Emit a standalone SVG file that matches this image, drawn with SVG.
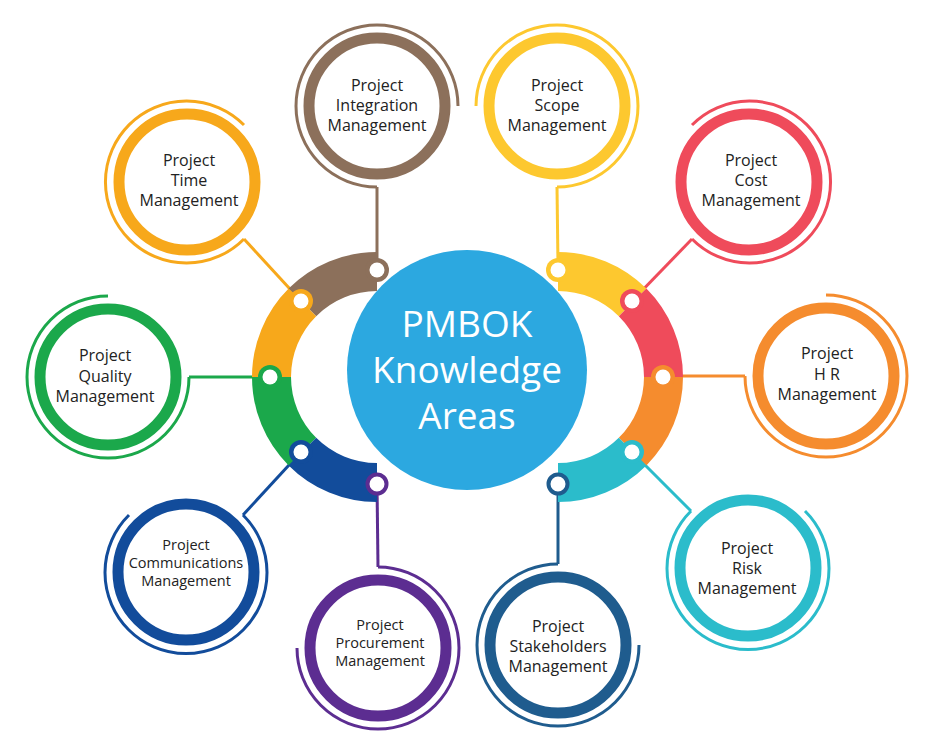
<svg xmlns="http://www.w3.org/2000/svg" width="945" height="753" viewBox="0 0 945 753">
<style>
.ring{fill:#fff;stroke-width:11}
.arc{fill:none;stroke-width:3}
.ln{fill:none;stroke-width:3}
.t{font-family:"Open Sans","Liberation Sans",sans-serif;font-size:16px;fill:#222;text-anchor:middle}
.s{font-size:14.5px}
.c{font-family:"Open Sans","Liberation Sans",sans-serif;font-size:37px;fill:#fff;text-anchor:middle}
</style>
<rect width="945" height="753" fill="#fff"/>
<g id="connectors">
<line class="ln" x1="377" y1="187" x2="377" y2="265" stroke="#8c705b"/>
<line class="ln" x1="244" y1="239" x2="301" y2="301" stroke="#f7a81b"/>
<line class="ln" x1="189" y1="377" x2="270" y2="377" stroke="#1ba84b"/>
<line class="ln" x1="243" y1="515" x2="301" y2="452" stroke="#124c9b"/>
<line class="ln" x1="378" y1="567" x2="377" y2="484" stroke="#5c2d91"/>
<line class="ln" x1="557" y1="187" x2="558" y2="265" stroke="#fdc82f"/>
<line class="ln" x1="692" y1="239" x2="632" y2="301" stroke="#ef4b5b"/>
<line class="ln" x1="745" y1="376" x2="663" y2="376" stroke="#f58c2e"/>
<line class="ln" x1="691" y1="511" x2="632" y2="452" stroke="#2bbccb"/>
<line class="ln" x1="558" y1="564" x2="558" y2="484" stroke="#1f5c8e"/>
</g>
<g id="hub">
<path d="M377 252 A125 125 0 0 0 288.6 288.6 L316.2 316.2 A86 86 0 0 1 377 291 Z" fill="#8c705b"/>
<path d="M288.6 288.6 A125 125 0 0 0 252 377 L291 377 A86 86 0 0 1 316.2 316.2 Z" fill="#f7a81b"/>
<path d="M252 377 A125 125 0 0 0 288.6 465.4 L316.2 437.8 A86 86 0 0 1 291 377 Z" fill="#1ba84b"/>
<path d="M288.6 465.4 A125 125 0 0 0 377 502 L377 463 A86 86 0 0 1 316.2 437.8 Z" fill="#124c9b"/>
<path d="M558 252 A125 125 0 0 1 646.4 288.6 L618.8 316.2 A86 86 0 0 0 558 291 Z" fill="#fdc82f"/>
<path d="M646.4 288.6 A125 125 0 0 1 683 377 L644 377 A86 86 0 0 0 618.8 316.2 Z" fill="#ef4b5b"/>
<path d="M683 377 A125 125 0 0 1 646.4 465.4 L618.8 437.8 A86 86 0 0 0 644 377 Z" fill="#f58c2e"/>
<path d="M646.4 465.4 A125 125 0 0 1 558 502 L558 463 A86 86 0 0 0 618.8 437.8 Z" fill="#2bbccb"/>
<circle cx="377" cy="270" r="12" fill="#8c705b"/><circle cx="377" cy="270" r="7.5" fill="#fff"/>
<circle cx="301" cy="301" r="12" fill="#f7a81b"/><circle cx="301" cy="301" r="7.5" fill="#fff"/>
<circle cx="270" cy="377" r="12" fill="#1ba84b"/><circle cx="270" cy="377" r="7.5" fill="#fff"/>
<circle cx="301" cy="452" r="12" fill="#124c9b"/><circle cx="301" cy="452" r="7.5" fill="#fff"/>
<circle cx="377" cy="484" r="9.5" fill="#fff" stroke="#5c2d91" stroke-width="4"/>
<circle cx="558" cy="270" r="12" fill="#fdc82f"/><circle cx="558" cy="270" r="7.5" fill="#fff"/>
<circle cx="632" cy="301" r="12" fill="#ef4b5b"/><circle cx="632" cy="301" r="7.5" fill="#fff"/>
<circle cx="663" cy="377" r="12" fill="#f58c2e"/><circle cx="663" cy="377" r="7.5" fill="#fff"/>
<circle cx="632" cy="452" r="12" fill="#2bbccb"/><circle cx="632" cy="452" r="7.5" fill="#fff"/>
<circle cx="558" cy="484" r="9.5" fill="#fff" stroke="#1f5c8e" stroke-width="4"/>
<circle cx="467" cy="370" r="120" fill="#2ca8e0"/>
<text class="c" x="467" y="337">PMBOK</text>
<text class="c" x="467" y="383">Knowledge</text>
<text class="c" x="467" y="429">Areas</text>
</g>
<g id="integration">
<path class="arc" d="M377 187 A81 81 0 1 1 458 106" stroke="#8c705b"/>
<circle class="ring" cx="377" cy="106" r="68" stroke="#8c705b"/>
<text class="t" x="377" y="91">Project</text><text class="t" x="377" y="111">Integration</text><text class="t" x="377" y="131">Management</text>
</g>
<g id="scope">
<path class="arc" d="M557 187 A81 81 0 1 0 476 106" stroke="#fdc82f"/>
<circle class="ring" cx="557" cy="106" r="68" stroke="#fdc82f"/>
<text class="t" x="557" y="91">Project</text><text class="t" x="557" y="111">Scope</text><text class="t" x="557" y="131">Management</text>
</g>
<g id="time">
<path class="arc" d="M244 239 A81 81 0 1 1 244 125" stroke="#f7a81b"/>
<circle class="ring" cx="187" cy="182" r="68" stroke="#f7a81b"/>
<text class="t" x="189" y="166">Project</text><text class="t" x="189" y="186">Time</text><text class="t" x="189" y="206">Management</text>
</g>
<g id="cost">
<path class="arc" d="M692 239 A81 81 0 1 0 692 125" stroke="#ef4b5b"/>
<circle class="ring" cx="749" cy="182" r="68" stroke="#ef4b5b"/>
<text class="t" x="751" y="166">Project</text><text class="t" x="751" y="186">Cost</text><text class="t" x="751" y="206">Management</text>
</g>
<g id="quality">
<path class="arc" d="M189 377 A81 81 0 1 1 108 296" stroke="#1ba84b"/>
<circle class="ring" cx="108" cy="377" r="68" stroke="#1ba84b"/>
<text class="t" x="105" y="361">Project</text><text class="t" x="105" y="382">Quality</text><text class="t" x="105" y="402">Management</text>
</g>
<g id="hr">
<path class="arc" d="M745 376 A81 81 0 1 0 826 295" stroke="#f58c2e"/>
<circle class="ring" cx="826" cy="376" r="68" stroke="#f58c2e"/>
<text class="t" x="827" y="359">Project</text><text class="t" x="827" y="380">H R</text><text class="t" x="827" y="400">Management</text>
</g>
<g id="communications">
<path class="arc" d="M243 515 A81 81 0 1 1 129 515" stroke="#124c9b"/>
<circle class="ring" cx="186" cy="572" r="68" stroke="#124c9b"/>
<text class="t s" x="186" y="550">Project</text><text class="t s" x="186" y="568">Communications</text><text class="t s" x="186" y="586">Management</text>
</g>
<g id="risk">
<path class="arc" d="M691 511 A81 81 0 1 0 805 511" stroke="#2bbccb"/>
<circle class="ring" cx="748" cy="568" r="68" stroke="#2bbccb"/>
<text class="t" x="747" y="554">Project</text><text class="t" x="747" y="574">Risk</text><text class="t" x="747" y="594">Management</text>
</g>
<g id="procurement">
<path class="arc" d="M378 567 A81 81 0 1 1 297 648" stroke="#5c2d91"/>
<circle class="ring" cx="378" cy="648" r="68" stroke="#5c2d91"/>
<text class="t s" x="380" y="630">Project</text><text class="t s" x="380" y="648">Procurement</text><text class="t s" x="380" y="666">Management</text>
</g>
<g id="stakeholders">
<path class="arc" d="M558 564 A81 81 0 1 0 639 645" stroke="#1f5c8e"/>
<circle class="ring" cx="558" cy="645" r="68" stroke="#1f5c8e"/>
<text class="t" x="558" y="632">Project</text><text class="t" x="558" y="652">Stakeholders</text><text class="t" x="558" y="672">Management</text>
</g>
</svg>
